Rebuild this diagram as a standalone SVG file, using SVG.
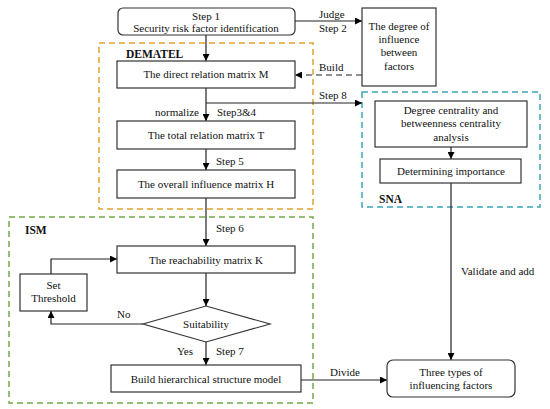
<svg xmlns="http://www.w3.org/2000/svg" width="550" height="409" viewBox="0 0 550 409" font-family="'Liberation Serif', 'Times New Roman', serif">
<defs>
<marker id="ah" viewBox="0 0 10 10" refX="10" refY="5" markerWidth="7" markerHeight="7" markerUnits="userSpaceOnUse" orient="auto">
<path d="M0,0 L10,5 L0,10 z" fill="#000"/>
</marker>
</defs>
<style>
text{font-family:'Liberation Serif','Times New Roman',serif;font-size:11px;fill:#111}
.c{text-anchor:middle}
.b{font-weight:bold;font-size:11.5px}
.box{fill:#fff;stroke:#333;stroke-width:1.2}
.ln{fill:none;stroke:#222;stroke-width:1.2}
.grp{fill:none;stroke-width:1.5;stroke-dasharray:6,4}
</style>
<rect width="550" height="409" fill="#fff"/>
<g id="groups">
<rect id="dematel" class="grp" x="99" y="43" width="214" height="166" stroke="#E3A232"/>
<rect id="sna" class="grp" x="362" y="92" width="178" height="115" stroke="#3AA7B8"/>
<rect id="ism" class="grp" x="9" y="217" width="304" height="186" stroke="#72A848"/>
<text class="b" x="126" y="58">DEMATEL</text>
<text class="b" x="379" y="203">SNA</text>
<text class="b" x="25" y="234">ISM</text>
</g>
<g id="connectors">
<line class="ln" x1="206" y1="35" x2="206" y2="61" marker-end="url(#ah)"/>
<line class="ln" x1="295" y1="21" x2="362" y2="21" marker-end="url(#ah)"/>
<line class="ln" x1="362" y1="75" x2="295" y2="75" stroke-dasharray="6,4" marker-end="url(#ah)"/>
<line class="ln" x1="206" y1="88" x2="206" y2="121" marker-end="url(#ah)"/>
<polyline class="ln" points="206,103 362,103" marker-end="url(#ah)"/>
<line class="ln" x1="206" y1="149" x2="206" y2="170" marker-end="url(#ah)"/>
<line class="ln" x1="206" y1="198" x2="206" y2="246" marker-end="url(#ah)"/>
<line class="ln" x1="206" y1="273" x2="206" y2="306" marker-end="url(#ah)"/>
<polyline class="ln" points="143,324 51,324 51,311" marker-end="url(#ah)"/>
<polyline class="ln" points="51,274 51,259 117,259" marker-end="url(#ah)"/>
<line class="ln" x1="206" y1="342" x2="206" y2="365" marker-end="url(#ah)"/>
<line class="ln" x1="301" y1="380" x2="387" y2="380" marker-end="url(#ah)"/>
<line class="ln" x1="451" y1="147" x2="451" y2="159" marker-end="url(#ah)"/>
<line class="ln" x1="451" y1="183" x2="451" y2="360" marker-end="url(#ah)"/>
<text x="319" y="18">Judge</text>
<text x="319" y="32">Step 2</text>
<text x="319" y="71">Build</text>
<text x="319" y="99">Step 8</text>
<text x="155" y="116">normalize</text>
<text x="217" y="116">Step3&amp;4</text>
<text x="216" y="165">Step 5</text>
<text x="216" y="232">Step 6</text>
<text x="117" y="318">No</text>
<text x="177" y="355">Yes</text>
<text x="216" y="355">Step 7</text>
<text x="330" y="376">Divide</text>
<text x="461" y="275">Validate and add</text>
</g>
<g id="step1">
<rect class="box" x="118" y="8" width="177" height="27" rx="5"/>
<text class="c" x="206" y="20">Step 1</text>
<text class="c" x="206" y="32">Security risk factor identification</text>
</g>
<g id="degree">
<rect class="box" x="362" y="8" width="74" height="78"/>
<text class="c" x="399" y="30">The degree of</text>
<text class="c" x="399" y="43">influence</text>
<text class="c" x="399" y="56">between</text>
<text class="c" x="399" y="70">factors</text>
</g>
<g id="directM">
<rect class="box" x="117" y="61" width="178" height="27"/>
<text class="c" x="206" y="78">The direct relation matrix M</text>
</g>
<g id="totalT">
<rect class="box" x="117" y="121" width="178" height="28"/>
<text class="c" x="206" y="139">The total relation matrix T</text>
</g>
<g id="overallH">
<rect class="box" x="117" y="170" width="178" height="28"/>
<text class="c" x="206" y="188">The overall influence matrix H</text>
</g>
<g id="centrality">
<rect class="box" x="375" y="101" width="152" height="46"/>
<text class="c" x="451" y="114">Degree centrality and</text>
<text class="c" x="451" y="127">betweenness centrality</text>
<text class="c" x="451" y="141">analysis</text>
</g>
<g id="importance">
<rect class="box" x="380" y="159" width="141" height="24"/>
<text class="c" x="451" y="175">Determining importance</text>
</g>
<g id="reachK">
<rect class="box" x="117" y="246" width="178" height="27"/>
<text class="c" x="206" y="264">The reachability matrix K</text>
</g>
<g id="threshold">
<rect class="box" x="20" y="274" width="67" height="37"/>
<text class="c" x="53.500" y="289">Set</text>
<text class="c" x="53.500" y="302">Threshold</text>
</g>
<g id="suitability">
<polygon class="box" points="143,324 206,306 270,324 206,342"/>
<text class="c" x="206" y="328">Suitability</text>
</g>
<g id="hierarchy">
<rect class="box" x="111" y="365" width="190" height="27"/>
<text class="c" x="206" y="383">Build hierarchical structure model</text>
</g>
<g id="threeTypes">
<rect class="box" x="387" y="360" width="128" height="37" rx="6"/>
<text class="c" x="451" y="376">Three types of</text>
<text class="c" x="451" y="389">influencing factors</text>
</g>
</svg>
